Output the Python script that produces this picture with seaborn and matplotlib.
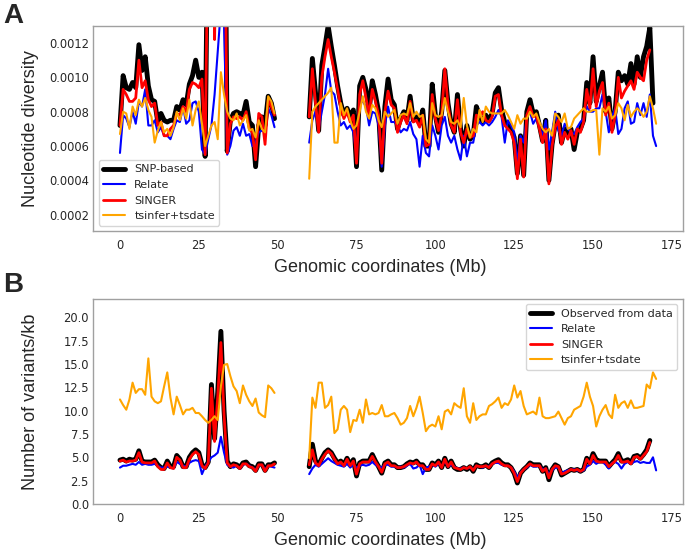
import numpy as np
import pandas as pd
import seaborn as sns
import matplotlib.pyplot as plt

nan = np.nan

# genomic positions (Mb), two blocks either side of the gap
pos_left = list(range(0, 50))
pos_right = list(range(60, 171))

# ---- panel A: nucleotide diversity ----
pi_snp_left = [0.00072, 0.00101, 0.00094, 0.00093, 0.00097, 0.00094, 0.00119, 0.00104, 0.00112, 0.00095,
               0.00087, 0.00086, 0.00074, 0.00079, 0.00075, 0.00074, 0.00075, 0.00075, 0.00083, 0.00081,
               0.00087, 0.00084, 0.00096, 0.00101, 0.00110, 0.00100, 0.00103, 0.00054, 0.00220, 0.00300,
               0.00210, 0.00260, 0.00360, 0.00270, 0.00057, 0.00075, 0.00079, 0.00080, 0.00079, 0.00078,
               0.00086, 0.00074, 0.00072, 0.00048, 0.00072, 0.00077, 0.00072, 0.00089, 0.00085, 0.00076]
pi_snp_right = [0.00077, 0.00111, 0.00091, 0.00069, 0.00107, 0.00118, 0.00130, 0.00118, 0.00107, 0.00095,
                0.00085, 0.00078, 0.00082, 0.00077, 0.00081, 0.00048, 0.00095, 0.00100, 0.00093, 0.00081,
                0.00098, 0.00090, 0.00080, 0.00046, 0.00083, 0.00099, 0.00087, 0.00084, 0.00070, 0.00076,
                0.00080, 0.00075, 0.00089, 0.00075, 0.00077, 0.00073, 0.00081, 0.00060, 0.00060, 0.00096,
                0.00078, 0.00068, 0.00080, 0.00104, 0.00085, 0.00073, 0.00068, 0.00090, 0.00070, 0.00060,
                0.00072, 0.00064, 0.00066, 0.00083, 0.00078, 0.00074, 0.00078, 0.00075, 0.00079, 0.00091,
                0.00094, 0.00081, 0.00074, 0.00072, 0.00070, 0.00065, 0.00044, 0.00066, 0.00043, 0.00080,
                0.00087, 0.00079, 0.00080, 0.00072, 0.00063, 0.00075, 0.00040, 0.00061, 0.00073, 0.00078,
                0.00062, 0.00070, 0.00066, 0.00070, 0.00058, 0.00068, 0.00070, 0.00075, 0.00097, 0.00085,
                0.00112, 0.00086, 0.00095, 0.00103, 0.00080, 0.00088, 0.00070, 0.00080, 0.00103, 0.00098,
                0.00101, 0.00096, 0.00108, 0.00096, 0.00112, 0.00100, 0.00112, 0.00118, 0.00129, 0.00085,
                nan]

pi_relate_left = [0.00056, 0.00078, 0.00076, 0.00071, 0.00080, 0.00073, 0.00086, 0.00083, 0.00093, 0.00072,
                  0.00072, 0.00075, 0.00068, 0.00071, 0.00066, 0.00066, 0.00064, 0.00070, 0.00075, 0.00074,
                  0.00083, 0.00073, 0.00075, 0.00085, 0.00086, 0.00080, 0.00058, 0.00055, 0.00064, 0.00072,
                  0.00090, 0.00115, 0.00140, 0.00130, 0.00055, 0.00060, 0.00069, 0.00071, 0.00066, 0.00073,
                  0.00066, 0.00067, 0.00060, 0.00062, 0.00068, 0.00069, 0.00069, 0.00082, 0.00078, 0.00071]
pi_relate_right = [0.00062, 0.00075, 0.00080, 0.00070, 0.00080, 0.00090, 0.00105, 0.00092, 0.00090, 0.00080,
                   0.00072, 0.00074, 0.00070, 0.00072, 0.00068, 0.00055, 0.00088, 0.00086, 0.00083, 0.00072,
                   0.00080, 0.00079, 0.00072, 0.00048, 0.00072, 0.00083, 0.00074, 0.00074, 0.00072, 0.00068,
                   0.00070, 0.00069, 0.00074, 0.00067, 0.00064, 0.00048, 0.00066, 0.00056, 0.00054, 0.00072,
                   0.00066, 0.00058, 0.00072, 0.00077, 0.00066, 0.00062, 0.00066, 0.00058, 0.00052, 0.00066,
                   0.00054, 0.00062, 0.00062, 0.00072, 0.00074, 0.00072, 0.00074, 0.00072, 0.00074, 0.00077,
                   0.00081, 0.00077, 0.00062, 0.00075, 0.00072, 0.00068, 0.00050, 0.00066, 0.00062, 0.00077,
                   0.00080, 0.00073, 0.00076, 0.00071, 0.00066, 0.00075, 0.00058, 0.00068, 0.00080, 0.00069,
                   0.00066, 0.00073, 0.00070, 0.00068, 0.00067, 0.00071, 0.00074, 0.00076, 0.00083, 0.00080,
                   0.00080, 0.00082, 0.00082, 0.00090, 0.00080, 0.00068, 0.00077, 0.00082, 0.00067, 0.00070,
                   0.00082, 0.00086, 0.00073, 0.00074, 0.00085, 0.00078, 0.00085, 0.00077, 0.00090, 0.00066,
                   0.00060]

pi_singer_left = [0.00072, 0.00093, 0.00090, 0.00086, 0.00086, 0.00088, 0.00110, 0.00094, 0.00098, 0.00087,
                  0.00083, 0.00085, 0.00072, 0.00074, 0.00066, 0.00066, 0.00070, 0.00072, 0.00079, 0.00078,
                  0.00083, 0.00080, 0.00093, 0.00097, 0.00096, 0.00094, 0.00099, 0.00055, 0.00200, 0.00280,
                  0.00122, 0.00240, 0.00340, 0.00250, 0.00056, 0.00073, 0.00077, 0.00076, 0.00077, 0.00075,
                  0.00080, 0.00070, 0.00068, 0.00052, 0.00079, 0.00077, 0.00061, 0.00087, 0.00083, 0.00078]
pi_singer_right = [0.00077, 0.00105, 0.00085, 0.00068, 0.00100, 0.00112, 0.00122, 0.00112, 0.00103, 0.00093,
                   0.00082, 0.00076, 0.00080, 0.00074, 0.00078, 0.00050, 0.00090, 0.00098, 0.00088, 0.00078,
                   0.00093, 0.00086, 0.00078, 0.00050, 0.00080, 0.00092, 0.00084, 0.00082, 0.00068, 0.00074,
                   0.00078, 0.00073, 0.00086, 0.00074, 0.00075, 0.00071, 0.00078, 0.00060, 0.00061, 0.00090,
                   0.00076, 0.00069, 0.00078, 0.00105, 0.00084, 0.00072, 0.00068, 0.00087, 0.00068, 0.00062,
                   0.00070, 0.00065, 0.00066, 0.00078, 0.00077, 0.00080, 0.00075, 0.00074, 0.00077, 0.00089,
                   0.00090, 0.00078, 0.00072, 0.00070, 0.00068, 0.00062, 0.00041, 0.00064, 0.00042, 0.00078,
                   0.00083, 0.00077, 0.00078, 0.00070, 0.00062, 0.00070, 0.00038, 0.00060, 0.00071, 0.00075,
                   0.00061, 0.00068, 0.00064, 0.00069, 0.00061, 0.00070, 0.00068, 0.00074, 0.00093, 0.00082,
                   0.00105, 0.00083, 0.00092, 0.00097, 0.00078, 0.00085, 0.00068, 0.00078, 0.00100, 0.00088,
                   0.00092, 0.00095, 0.00098, 0.00093, 0.00103, 0.00100, 0.00098, 0.00110, 0.00116, nan,
                   nan]

pi_tsinfer_left = [0.00067, 0.00080, 0.00079, 0.00070, 0.00083, 0.00078, 0.00087, 0.00083, 0.00088, 0.00081,
                   0.00077, 0.00062, 0.00069, 0.00074, 0.00068, 0.00070, 0.00066, 0.00071, 0.00080, 0.00075,
                   0.00082, 0.00076, 0.00087, 0.00072, 0.00081, 0.00086, 0.00073, 0.00060, 0.00066, 0.00072,
                   0.00074, 0.00064, 0.00103, 0.00090, 0.00080, 0.00076, 0.00075, 0.00079, 0.00072, 0.00075,
                   0.00078, 0.00069, 0.00070, 0.00065, 0.00075, 0.00070, 0.00068, 0.00089, 0.00086, 0.00079]
pi_tsinfer_right = [0.00041, 0.00080, 0.00083, 0.00085, 0.00087, 0.00089, 0.00091, 0.00094, 0.00062, 0.00062,
                    0.00085, 0.00078, 0.00082, 0.00075, 0.00070, 0.00072, 0.00080, 0.00089, 0.00080, 0.00076,
                    0.00084, 0.00082, 0.00075, 0.00071, 0.00080, 0.00077, 0.00079, 0.00081, 0.00073, 0.00078,
                    0.00079, 0.00078, 0.00085, 0.00077, 0.00080, 0.00077, 0.00078, 0.00064, 0.00062, 0.00085,
                    0.00078, 0.00077, 0.00078, 0.00088, 0.00080, 0.00074, 0.00073, 0.00075, 0.00071, 0.00088,
                    0.00072, 0.00065, 0.00070, 0.00068, 0.00081, 0.00074, 0.00083, 0.00080, 0.00079, 0.00079,
                    0.00079, 0.00079, 0.00081, 0.00078, 0.00074, 0.00070, 0.00078, 0.00073, 0.00076, 0.00076,
                    0.00080, 0.00077, 0.00079, 0.00074, 0.00070, 0.00068, 0.00070, 0.00066, 0.00079, 0.00077,
                    0.00074, 0.00079, 0.00070, 0.00071, 0.00076, 0.00078, 0.00080, 0.00082, 0.00080, 0.00080,
                    0.00081, 0.00081, 0.00055, 0.00082, 0.00080, 0.00083, 0.00076, 0.00078, 0.00085, 0.00082,
                    0.00075, 0.00084, 0.00077, 0.00080, 0.00082, 0.00080, 0.00077, 0.00080, 0.00089, 0.00082,
                    0.00073]

# ---- panel B: number of variants per kb ----
nv_obs_left = [4.7, 4.8, 4.6, 4.8, 4.7, 4.8, 5.7, 4.6, 4.5, 4.5,
               4.5, 4.7, 4.2, 3.9, 3.8, 4.6, 4.0, 4.0, 5.2, 4.8,
               4.0, 4.0, 5.0, 5.5, 5.8, 5.5, 4.2, 3.9, 4.5, 12.8,
               7.0, 12.0, 18.5, 10.0, 4.6, 4.0, 4.3, 4.2, 3.9, 4.4,
               4.5, 4.1, 4.0, 3.6, 4.3, 4.3, 3.6, 4.2, 4.2, 4.4]
nv_obs_right = [4.0, 6.4, 4.6, 4.2, 4.9, 5.5, 5.8, 5.5, 4.9, 4.4,
                4.6, 4.2, 4.9, 4.2, 4.75, 3.0, 4.4, 4.6, 4.6, 4.6,
                5.3, 4.6, 4.0, 3.3, 4.4, 4.6, 4.2, 4.2, 3.9, 3.9,
                4.0, 4.3, 4.5, 4.4, 4.6, 4.2, 4.2, 3.7, 3.7, 4.4,
                4.2, 4.6, 3.9, 4.9, 4.0, 4.6, 3.9, 3.7, 3.7, 3.9,
                3.7, 4.0, 3.5, 4.2, 4.0, 4.0, 4.2, 3.9, 4.4, 4.6,
                4.75, 4.4, 4.2, 4.2, 3.9, 3.3, 2.25, 3.3, 3.7, 4.0,
                4.4, 4.2, 4.2, 4.2, 3.5, 3.9, 2.6, 3.7, 4.2, 4.0,
                3.1, 3.3, 3.5, 3.7, 3.6, 3.7, 3.5, 3.7, 4.9, 4.4,
                5.4, 4.75, 4.6, 4.6, 4.6, 4.0, 4.4, 4.75, 5.4, 4.6,
                4.6, 4.75, 4.4, 5.1, 5.2, 4.9, 5.3, 5.8, 6.8, nan,
                nan]

nv_relate_left = [3.9, 4.1, 4.1, 4.2, 4.3, 4.2, 4.5, 4.2, 4.3, 4.2,
                  4.2, 4.3, 4.1, 3.9, 3.9, 4.0, 3.9, 3.8, 4.5, 4.3,
                  4.1, 4.0, 4.4, 4.6, 4.7, 4.6, 3.2, 4.0, 4.5, 5.0,
                  5.2, 5.5, 7.2, 5.5, 4.2, 4.0, 3.9, 4.1, 3.8, 4.2,
                  4.3, 4.1, 3.9, 3.7, 4.1, 4.2, 3.7, 4.1, 4.0, 3.9]
nv_relate_right = [3.2, 3.8, 4.2, 4.0, 4.3, 4.6, 4.9, 4.6, 4.4, 4.2,
                   4.1, 4.0, 4.3, 3.9, 4.2, 3.9, 4.1, 4.2, 4.1, 4.2,
                   4.5, 4.2, 4.0, 3.9, 4.2, 4.2, 4.0, 4.0, 3.9, 4.0,
                   3.9, 4.1, 4.3, 3.8, 3.9, 4.2, 3.2, 3.9, 4.0, 4.2,
                   4.0, 4.3, 4.0, 4.6, 4.0, 4.2, 4.0, 3.8, 3.8, 3.9,
                   3.8, 3.9, 3.7, 4.1, 4.0, 3.9, 4.1, 4.0, 4.3, 4.4,
                   4.4, 4.2, 4.1, 4.1, 3.9, 3.5, 2.8, 3.4, 3.7, 3.9,
                   4.2, 4.0, 4.0, 4.1, 3.7, 3.8, 3.2, 3.6, 3.9, 3.9,
                   3.3, 3.5, 3.6, 3.7, 3.7, 3.6, 3.5, 3.6, 4.0, 4.2,
                   4.6, 4.3, 4.5, 4.5, 4.2, 3.8, 4.4, 4.5, 4.3, 3.8,
                   4.3, 4.5, 4.3, 4.5, 4.6, 4.4, 4.5, 4.4, 4.4, 5.0,
                   3.6]

nv_singer_left = [4.6, 4.7, 4.5, 4.6, 4.6, 4.7, 5.5, 4.5, 4.4, 4.4,
                  4.4, 4.6, 4.0, 3.7, 3.7, 4.4, 3.9, 3.8, 5.0, 4.7,
                  3.9, 3.9, 4.8, 5.3, 5.6, 5.3, 4.1, 3.8, 4.4, 12.4,
                  6.7, 11.5, 17.3, 9.5, 4.4, 4.0, 4.2, 4.1, 3.8, 4.3,
                  4.3, 4.0, 3.9, 3.5, 4.2, 4.2, 3.5, 4.1, 4.1, 4.3]
nv_singer_right = [4.2, 5.8, 4.4, 4.1, 4.8, 5.3, 5.7, 5.4, 4.8, 4.3,
                   4.5, 4.1, 4.8, 4.1, 4.6, 3.2, 4.3, 4.5, 4.5, 4.5,
                   5.1, 4.5, 4.0, 3.4, 4.3, 4.5, 4.1, 4.1, 3.9, 3.9,
                   4.0, 4.2, 4.4, 4.3, 4.5, 4.1, 4.1, 3.7, 3.7, 4.3,
                   4.1, 4.5, 3.9, 4.8, 4.0, 4.5, 3.9, 3.8, 3.7, 3.9,
                   3.8, 4.0, 3.6, 4.1, 4.0, 4.0, 4.1, 3.9, 4.3, 4.5,
                   4.6, 4.3, 4.1, 4.1, 3.9, 3.3, 2.4, 3.3, 3.7, 4.0,
                   4.3, 4.1, 4.1, 4.1, 3.5, 3.8, 2.8, 3.7, 4.1, 4.0,
                   3.2, 3.3, 3.5, 3.7, 3.6, 3.7, 3.5, 3.7, 4.8, 4.3,
                   5.2, 4.6, 4.5, 4.5, 4.5, 4.0, 4.3, 4.6, 5.2, 4.5,
                   4.5, 4.6, 4.3, 5.0, 5.1, 4.8, 5.2, 5.6, 6.6, nan,
                   nan]

nv_tsinfer_left = [11.2, 10.6, 10.1, 11.2, 13.0, 11.9, 12.3, 12.3, 11.7, 15.6,
                   11.5, 11.0, 10.8, 11.0, 12.6, 14.1, 11.4, 9.6, 11.5, 10.6,
                   9.6, 10.1, 10.1, 10.3, 9.75, 9.75, 9.4, 9.0, 8.7, 9.0,
                   9.4, 9.0, 12.6, 14.9, 15.0, 13.7, 12.6, 12.1, 10.8, 12.7,
                   11.7, 11.0, 10.5, 11.3, 9.8, 9.5, 9.3, 12.7, 12.4, 11.9]
nv_tsinfer_right = [4.9, 11.4, 10.3, 13.0, 13.0, 10.3, 10.6, 11.5, 7.6, 8.0,
                    10.1, 10.5, 10.1, 7.7, 9.0, 8.9, 10.1, 8.7, 11.2, 9.6,
                    9.75, 9.6, 9.75, 10.6, 9.4, 9.4, 9.6, 9.75, 9.2, 8.5,
                    8.7, 9.2, 10.5, 9.4, 10.3, 11.5, 9.75, 7.8, 8.3, 8.5,
                    8.3, 9.4, 8.0, 9.9, 10.1, 9.6, 10.8, 10.5, 10.3, 12.4,
                    9.4, 8.7, 10.8, 9.0, 9.4, 9.6, 9.6, 10.5, 10.7, 11.0,
                    11.4, 10.3, 10.8, 10.6, 11.2, 12.7, 11.4, 12.1, 10.5, 9.6,
                    9.75, 9.9, 9.6, 11.4, 9.4, 9.2, 9.2, 9.3, 9.4, 9.9,
                    9.2, 8.5, 9.2, 9.4, 10.1, 10.3, 10.5, 11.5, 13.0, 11.5,
                    10.5, 8.3, 9.4, 10.1, 10.6, 9.6, 9.2, 11.7, 10.3, 10.8,
                    11.0, 10.3, 11.1, 10.3, 10.3, 10.4, 10.5, 12.8, 12.4, 14.1,
                    13.4]

colors = {"obs": "black", "Relate": "blue", "SINGER": "red", "tsinfer+tsdate": "orange"}
widths = {"obs": 3.5, "Relate": 1.5, "SINGER": 2.0, "tsinfer+tsdate": 1.5}

sns.set_style("white")
plt.rcParams["font.family"] = ["DejaVu Sans"]

fig = plt.figure(figsize=(6.85, 5.49), dpi=100)
axA = fig.add_axes([0.136, 0.579, 0.861, 0.374])
axB = fig.add_axes([0.136, 0.082, 0.861, 0.374])


def draw(ax, obs_label, series):
    for name, left, right in series:
        key = "obs" if name == obs_label else name
        for i, (xs, ys) in enumerate([(pos_left, left), (pos_right, right)]):
            df = pd.DataFrame({"pos": xs, "val": ys}).dropna()
            sns.lineplot(data=df, x="pos", y="val", ax=ax, color=colors[key],
                         lw=widths[key], label=name if i == 0 else None, legend=False)


draw(axA, "SNP-based", [("SNP-based", pi_snp_left, pi_snp_right),
                        ("Relate", pi_relate_left, pi_relate_right),
                        ("SINGER", pi_singer_left, pi_singer_right),
                        ("tsinfer+tsdate", pi_tsinfer_left, pi_tsinfer_right)])
draw(axB, "Observed from data", [("Observed from data", nv_obs_left, nv_obs_right),
                                 ("Relate", nv_relate_left, nv_relate_right),
                                 ("SINGER", nv_singer_left, nv_singer_right),
                                 ("tsinfer+tsdate", nv_tsinfer_left, nv_tsinfer_right)])

axA.set_ylim(0.000105, 0.0013)
axA.set_yticks([0.0002, 0.0004, 0.0006, 0.0008, 0.0010, 0.0012])
axA.set_yticklabels(["0.0002", "0.0004", "0.0006", "0.0008", "0.0010", "0.0012"])
axB.set_ylim(0, 22)
axB.set_yticks([0, 2.5, 5, 7.5, 10, 12.5, 15, 17.5, 20])

lab_font = dict(family="Liberation Sans", size=13)
for ax in (axA, axB):
    ax.set_xlim(-8.5, 178.5)
    ax.set_xticks([0, 25, 50, 75, 100, 125, 150, 175])
    ax.tick_params(labelsize=8.3, length=0)
    ax.tick_params(axis="x", pad=6)
    ax.tick_params(axis="y", pad=3)
    for sp in ax.spines.values():
        sp.set_color("#a0a0a0")
        sp.set_linewidth(1.0)
    ax.set_xlabel("Genomic coordinates (Mb)", fontdict=lab_font)
    ax.xaxis.set_label_coords(0.486, -0.135)

axA.set_ylabel("Nucleotide diversity", fontdict=lab_font)
axB.set_ylabel("Number of variants/kb", fontdict=lab_font)
axA.yaxis.set_label_coords(-0.092, 0.5)
axB.yaxis.set_label_coords(-0.092, 0.5)

axA.legend(loc="lower left", fontsize=8)
axB.legend(loc="upper right", fontsize=8)

fig.text(0.005, 0.995, "A", fontsize=20, fontweight="bold", family="Liberation Sans", va="top")
fig.text(0.005, 0.505, "B", fontsize=20, fontweight="bold", family="Liberation Sans", va="top")

fig.savefig("out.png", dpi=100)
